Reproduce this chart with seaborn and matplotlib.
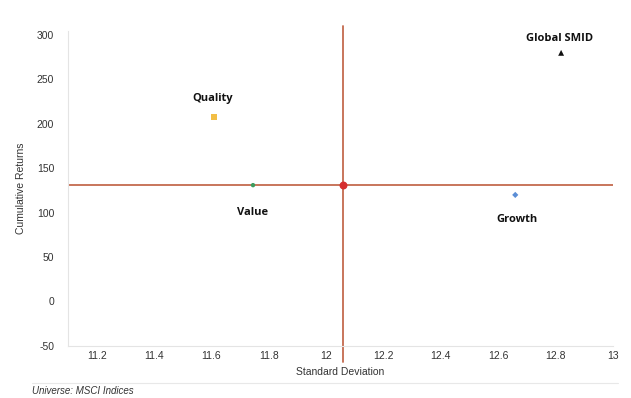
import matplotlib
matplotlib.use("Agg")
import matplotlib.pyplot as plt
import seaborn as sns
import pandas as pd
from matplotlib.lines import Line2D

# data
names = ["Quality", "Value", "Growth", "Global SMID"]
std_dev = [11.61, 11.745, 12.66, 12.82]
cum_ret = [208, 131, 120, 280]
avg_std = 12.06
avg_ret = 131
y_ticks = [-50, 0, 50, 100, 150, 200, 250, 300]
y_ticklabels = ["-50", "0", "50", "100", "150", "200", "250", "300"]
x_ticks = [11.2, 11.4, 11.6, 11.8, 12.0, 12.2, 12.4, 12.6, 12.8, 13.0]
x_ticklabels = ["11.2", "11.4", "11.6", "11.8", "12", "12.2", "12.4", "12.6", "12.8", "13"]

colors = {"Quality": "#F2BE45", "Value": "#3E9B5E", "Growth": "#5B8ED6", "Global SMID": "#111111"}
markers = {"Quality": "s", "Value": "o", "Growth": "D", "Global SMID": "^"}
sizes = {"Quality": 18, "Value": 10, "Growth": 10, "Global SMID": 18}
label_off = {"Quality": (-1, 13), "Value": (0, -20), "Growth": (1, -17.5), "Global SMID": (-1, 10)}

df = pd.DataFrame({"name": names, "std": std_dev, "ret": cum_ret})

sns.set_theme(style="white")
plt.rcParams["font.family"] = ["Liberation Sans", "DejaVu Sans"]

fig = plt.figure(figsize=(6.31, 3.98), dpi=100)
ax = fig.add_axes([0.108, 0.131, 0.863, 0.792])

line_col = "#C46A4E"
ax.axhline(avg_ret, color=line_col, lw=1.3, zorder=1)
ax.add_line(Line2D([avg_std, avg_std], [-68, 310], color=line_col, lw=1.3, zorder=1, clip_on=False))

for n in names:
    sub = df[df["name"] == n]
    sns.scatterplot(data=sub, x="std", y="ret", color=colors[n], marker=markers[n],
                    s=sizes[n], edgecolor="none", ax=ax, zorder=3, legend=False)
    ax.annotate(n, (sub["std"].iloc[0], sub["ret"].iloc[0]), xytext=label_off[n],
                textcoords="offset points", ha="center", va="center",
                fontsize=8, fontweight="bold", color="#111111", family=["Open Sans", "DejaVu Sans"])

ax.scatter([avg_std], [avg_ret], color="#D62F2F", s=22, zorder=4)

ax.set_xlim(11.1, 13.0)
ax.set_ylim(-50, 305)
ax.set_xticks(x_ticks)
ax.set_xticklabels(x_ticklabels)
ax.set_yticks(y_ticks)
ax.set_yticklabels(y_ticklabels)
ax.tick_params(axis="x", length=0, pad=4, labelsize=7.5, colors="#333333")
ax.tick_params(axis="y", length=0, pad=10, labelsize=7.5, colors="#333333")

for side in ["top", "right"]:
    ax.spines[side].set_visible(False)
for side in ["left", "bottom"]:
    ax.spines[side].set_color("#E4E4E4")
    ax.spines[side].set_linewidth(0.8)

ax.set_xlabel("Standard Deviation", fontsize=7.5, color="#333333", labelpad=4)
ax.set_ylabel("Cumulative Returns", fontsize=7.5, color="#333333", labelpad=8)

fig.add_artist(Line2D([0.05, 0.98], [1 - 383 / 398, 1 - 383 / 398], color="#E8E8E8", lw=0.8, zorder=0))
fig.text(32 / 631, 1 - 391 / 398, "Universe: MSCI Indices", fontsize=7, style="italic",
         color="#333333", va="center")

fig.savefig("out.png", dpi=100)
